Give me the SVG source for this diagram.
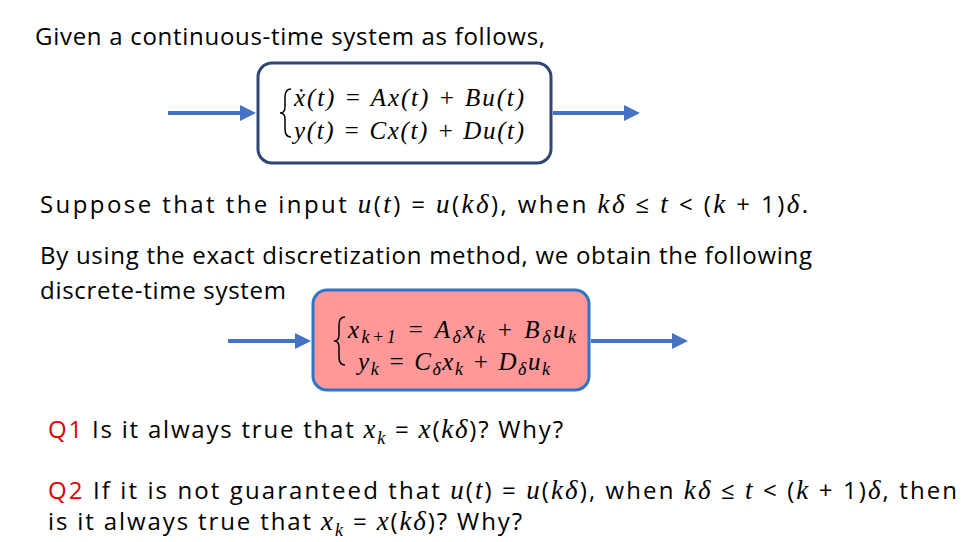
<svg xmlns="http://www.w3.org/2000/svg" width="976" height="542" viewBox="0 0 976 542">
<style>
.t{font-family:"Open Sans","Liberation Sans",sans-serif;font-size:24px;fill:#000}
.m{font-family:"Liberation Serif",serif;font-style:italic;font-size:27px}
.r{fill:#e00000}
.s{font-size:18px}
.eq{font-family:"Liberation Serif",serif;font-style:italic;font-size:25px;fill:#000}
.ar{stroke:#4472c4;stroke-width:4;fill:none}
</style>
<defs>
<marker id="ah" markerWidth="4" markerHeight="4" refX="2" refY="2" orient="auto"><path d="M0,0L4,2L0,4Z" fill="#4472c4"/></marker>
</defs>
<rect width="976" height="542" fill="#fff"/>
<text class="t" x="35" y="45" textLength="510">Given a continuous-time system as follows,</text>
<g id="sys1">
<rect x="258" y="63" width="293" height="100" rx="14" fill="#fff" stroke="#2f4775" stroke-width="3"/>
<path d="M291,89 q-6,0 -6,8 v10 q0,6 -5,6 q5,0 5,6 v10 q0,8 6,8" fill="none" stroke="#000" stroke-width="1.5"/>
<text class="eq" x="294" y="106" textLength="230">ẋ(t) = Ax(t) + Bu(t)</text>
<text class="eq" x="294" y="139" textLength="230">y(t) = Cx(t) + Du(t)</text>
</g>
<g id="sys2">
<rect x="313" y="290" width="276" height="100" rx="14" fill="#ff9999" stroke="#2e75c8" stroke-width="3"/>
<path d="M345,317 q-6,0 -6,8 v10 q0,6 -5,6 q5,0 5,6 v10 q0,8 6,8" fill="none" stroke="#000" stroke-width="1.5"/>
<text class="eq" x="348" y="338" textLength="228">x<tspan class="s" dy="5">k+1</tspan><tspan dy="-5"> = A</tspan><tspan class="s" dy="5">δ</tspan><tspan dy="-5">x</tspan><tspan class="s" dy="5">k</tspan><tspan dy="-5"> + B</tspan><tspan class="s" dy="5">δ</tspan><tspan dy="-5">u</tspan><tspan class="s" dy="5">k</tspan></text>
<text class="eq" x="358" y="370" textLength="192">y<tspan class="s" dy="5">k</tspan><tspan dy="-5"> = C</tspan><tspan class="s" dy="5">δ</tspan><tspan dy="-5">x</tspan><tspan class="s" dy="5">k</tspan><tspan dy="-5"> + D</tspan><tspan class="s" dy="5">δ</tspan><tspan dy="-5">u</tspan><tspan class="s" dy="5">k</tspan></text>
</g>
<g id="connectors">
<line class="ar" x1="168" y1="113" x2="248" y2="113" marker-end="url(#ah)"/>
<line class="ar" x1="553" y1="113" x2="632" y2="113" marker-end="url(#ah)"/>
<line class="ar" x1="228" y1="341" x2="303" y2="341" marker-end="url(#ah)"/>
<line class="ar" x1="591" y1="341" x2="680" y2="341" marker-end="url(#ah)"/>
</g>
<text class="t" x="40" y="213" textLength="768">Suppose that the input <tspan class="m">u</tspan>(<tspan class="m">t</tspan>) = <tspan class="m">u</tspan>(<tspan class="m">kδ</tspan>), when <tspan class="m">kδ</tspan> ≤ <tspan class="m">t</tspan> &lt; (<tspan class="m">k</tspan> + 1)<tspan class="m">δ</tspan>.</text>
<text class="t" x="40" y="264" textLength="772">By using the exact discretization method, we obtain the following</text>
<text class="t" x="40" y="299" textLength="246">discrete-time system</text>
<text class="t" x="48" y="438" textLength="515"><tspan class="r">Q1</tspan> Is it always true that <tspan class="m">x</tspan><tspan class="m s" dy="6">k</tspan><tspan dy="-6"> = </tspan><tspan class="m">x</tspan>(<tspan class="m">kδ</tspan>)? Why?</text>
<text class="t" x="48" y="499" textLength="909"><tspan class="r">Q2</tspan> If it is not guaranteed that <tspan class="m">u</tspan>(<tspan class="m">t</tspan>) = <tspan class="m">u</tspan>(<tspan class="m">kδ</tspan>), when <tspan class="m">kδ</tspan> ≤ <tspan class="m">t</tspan> &lt; (<tspan class="m">k</tspan> + 1)<tspan class="m">δ</tspan>, then</text>
<text class="t" x="48" y="530" textLength="474">is it always true that <tspan class="m">x</tspan><tspan class="m s" dy="6">k</tspan><tspan dy="-6"> = </tspan><tspan class="m">x</tspan>(<tspan class="m">kδ</tspan>)? Why?</text>
</svg>
